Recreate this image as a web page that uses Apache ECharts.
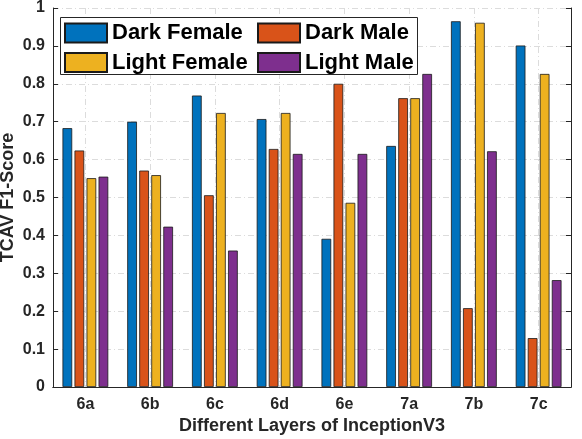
<!DOCTYPE html>
<html>
<head>
<meta charset="utf-8">
<script src="https://cdn.jsdelivr.net/npm/echarts@6/dist/echarts.min.js"></script>
<style>
  html, body { margin: 0; padding: 0; background: #ffffff; }
  #chart { width: 582px; height: 439px; }
</style>
</head>
<body>
<div id="chart"></div>
<script>
// layers on the x axis
var layers = ['6a', '6b', '6c', '6d', '6e', '7a', '7b', '7c'];
var seriesNames = ['Dark Female', 'Dark Male', 'Light Female', 'Light Male'];

// F1 scores
var darkFemale  = [0.683, 0.700, 0.769, 0.707, 0.391, 0.636, 0.965, 0.901];
var darkMale    = [0.624, 0.571, 0.506, 0.628, 0.800, 0.762, 0.208, 0.129];
var lightFemale = [0.551, 0.559, 0.723, 0.723, 0.486, 0.762, 0.961, 0.826];
var lightMale   = [0.555, 0.423, 0.360, 0.615, 0.615, 0.826, 0.622, 0.282];

var colors = ['#0072BD', '#D95319', '#EDB120', '#7E2F8E'];
var axisColor = '#262626';
var gridColor = '#dcdcdc';
var font = 'Liberation Sans';

var chart = echarts.init(document.getElementById('chart'), null, { renderer: 'canvas' });

function bar(name, data, idx) {
	return {
		name: name,
		type: 'bar',
		data: data,
		barWidth: 9.7,
		barGap: '24%',
		itemStyle: {
			color: colors[idx],
			borderColor: '#1a1a1a',
			borderWidth: 0.8
		}
	};
}

var legendText = {
	fontFamily: font,
	fontWeight: 'bold',
	fontSize: 22,
	color: '#000000',
	lineHeight: 19
};

var option = {
	backgroundColor: '#ffffff',
	animation: false,
	grid: { left: 53, right: 11, top: 8, bottom: 52, outerBoundsMode: 'none' },
	graphic: [{
		type: 'rect',
		z: 10,
		shape: { x: 60.5, y: 17.5, width: 357, height: 57 },
		style: { fill: '#ffffff', stroke: axisColor, lineWidth: 1 }
	}],
	legend: [{
		z: 11,
		orient: 'vertical',
		left: 64,
		top: 22,
		icon: 'rect',
		itemWidth: 42,
		itemHeight: 19,
		itemGap: 7.5,
		itemTextGap: 4,
		padding: 0,
		textStyle: legendText,
		data: ['Dark Female', 'Light Female']
	}, {
		z: 11,
		orient: 'vertical',
		left: 257,
		top: 22,
		icon: 'rect',
		itemWidth: 42,
		itemHeight: 19,
		itemGap: 7.5,
		itemTextGap: 4,
		padding: 0,
		textStyle: legendText,
		data: ['Dark Male', 'Light Male']
	}],
	xAxis: [{
		type: 'category',
		data: layers,
		position: 'bottom',
		name: 'Different Layers of InceptionV3',
		nameLocation: 'middle',
		nameGap: 30,
		nameMoveOverlap: false,
		nameTextStyle: { fontFamily: font, fontWeight: 'bold', fontSize: 18, color: axisColor },
		axisLine: { lineStyle: { color: axisColor, width: 1 } },
		axisTick: { inside: true, alignWithLabel: true, length: 5, lineStyle: { color: axisColor } },
		axisLabel: { fontFamily: font, fontWeight: 'bold', fontSize: 16, color: axisColor, margin: 10 },
		splitLine: {
			show: true,
			alignWithLabel: true,
			lineStyle: { color: gridColor, type: [6, 3, 1, 3], width: 1 }
		}
	}, {
		type: 'category',
		data: layers,
		position: 'top',
		axisLine: { lineStyle: { color: axisColor, width: 1 } },
		axisTick: { inside: true, alignWithLabel: true, length: 5, lineStyle: { color: axisColor } },
		axisLabel: { show: false },
		splitLine: { show: false }
	}],
	yAxis: [{
		type: 'value',
		min: 0,
		max: 1,
		interval: 0.1,
		position: 'left',
		name: 'TCAV F1-Score',
		nameLocation: 'middle',
		nameGap: 36,
		nameMoveOverlap: false,
		nameTextStyle: { fontFamily: font, fontWeight: 'bold', fontSize: 18, color: axisColor },
		axisLine: { show: true, lineStyle: { color: axisColor, width: 1 } },
		axisTick: { show: true, inside: true, length: 5, lineStyle: { color: axisColor } },
		axisLabel: { fontFamily: font, fontWeight: 'bold', fontSize: 16, color: axisColor, margin: 8 },
		splitLine: { show: true, lineStyle: { color: gridColor, type: [6, 3, 1, 3], width: 1 } }
	}, {
		type: 'value',
		min: 0,
		max: 1,
		interval: 0.1,
		position: 'right',
		axisLine: { show: true, lineStyle: { color: axisColor, width: 1 } },
		axisTick: { show: true, inside: true, length: 5, lineStyle: { color: axisColor } },
		axisLabel: { show: false },
		splitLine: { show: false }
	}],
	series: [
		bar(seriesNames[0], darkFemale, 0),
		bar(seriesNames[1], darkMale, 1),
		bar(seriesNames[2], lightFemale, 2),
		bar(seriesNames[3], lightMale, 3)
	]
};

chart.setOption(option);
</script>
</body>
</html>
